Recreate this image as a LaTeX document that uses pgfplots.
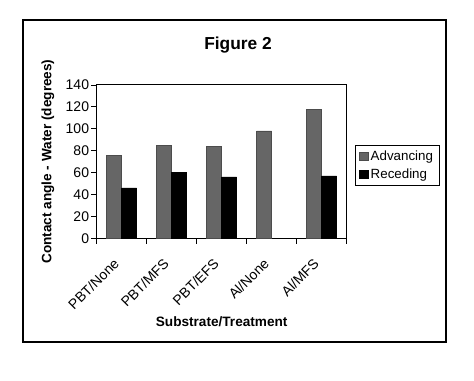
\documentclass[border=0pt]{standalone}
\usepackage{fontspec}
\setmainfont{Liberation Sans}
\usepackage{pgfplots}
\pgfplotsset{compat=1.18}
\begin{document}
\begin{tikzpicture}
\useasboundingbox (0,0) rectangle (355.5pt,285pt);
\draw[line width=0.9pt] (17.25pt,28.5pt) rectangle (334.5pt,270pt);
\node[font=\bfseries\fontsize{13}{15}\selectfont] at (178.5pt,251.25pt) {Figure 2};
\begin{axis}[
  at={(72.5pt,106.3pt)}, anchor=south west,
  scale only axis, width=187.5pt, height=115pt,
  xmin=-0.5, xmax=4.5, ymin=0, ymax=140,
  ytick={0,20,...,140},
  xtick={0,1,2,3,4},
  xticklabels={PBT/None,PBT/MFS,PBT/EFS,Al/None,Al/MFS},
  minor xtick={-0.5,0.5,...,4.5},
  major x tick style={draw=none},
  tick align=outside, tick pos=left,
  major tick length=4pt, minor tick length=4pt,
  tick style={black, line width=0.6pt},
  axis line style={line width=0.8pt},
  /pgf/number format/assume math mode=true,
  yticklabel style={font=\fontsize{10.5}{12}\selectfont, inner sep=1.5pt},
  xticklabel style={font=\fontsize{10.5}{12}\selectfont, rotate=45, anchor=east, inner sep=1pt, xshift=-11pt, yshift=-6.5pt},
  xlabel={Substrate/Treatment},
  ylabel={Contact angle - Water (degrees)},
  label style={font=\bfseries\fontsize{10.2}{12}\selectfont},
  xlabel style={at={(axis description cs:0.5,-0.547)}, anchor=center},
  ylabel style={at={(axis description cs:-0.195,0.5)}, anchor=center},
  legend style={at={(axis description cs:1.033,0.61)}, anchor=north west,
    font=\fontsize{10}{12}\selectfont, draw=black, line width=0.6pt,
    inner xsep=3pt, inner ysep=2pt, row sep=1pt},
  legend image code/.code={\draw[#1, line width=0.3pt] (0cm,-0.1cm) rectangle (0.22cm,0.12cm);},
  legend cell align=left,
]
\addplot[ybar, bar width=0.3, bar shift=-0.15, fill=black!60, draw=black!70, line width=0.4pt]
  coordinates {(0,76) (1,85) (2,84) (3,98) (4,118)};
\addlegendentry{Advancing}
\addplot[ybar, bar width=0.3, bar shift=0.15, fill=black, draw=black, line width=0.4pt]
  coordinates {(0,46) (1,60) (2,56) (4,57)};
\addlegendentry{Receding}
\end{axis}
\end{tikzpicture}
\end{document}
